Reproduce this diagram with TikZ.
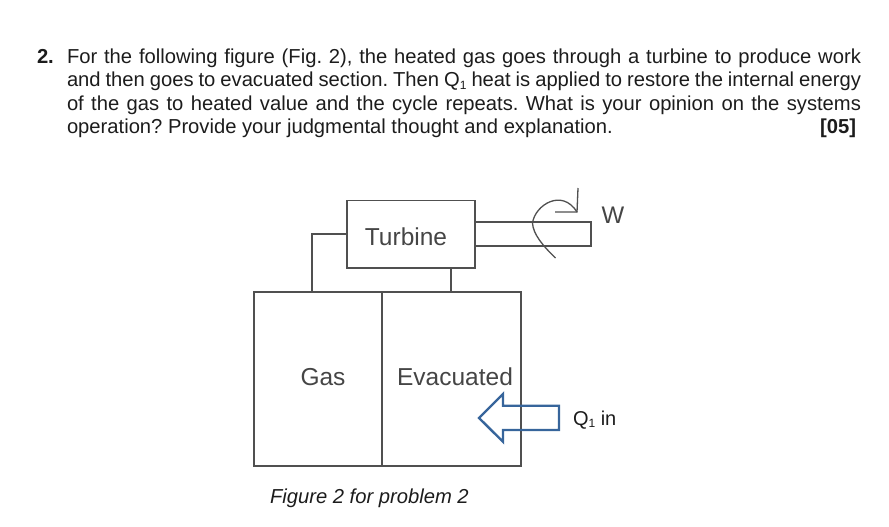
\documentclass[tikz,border=0pt]{standalone}
\usepackage{fontspec}
\setmainfont{Liberation Sans}
\frenchspacing
\definecolor{ink}{HTML}{1C1C1C}
\definecolor{wall}{HTML}{505050}
\definecolor{label}{HTML}{454545}
\definecolor{heat}{HTML}{37659B}
\newcommand{\subone}{\raisebox{-2pt}{\fontsize{12}{12}\selectfont 1}}
\tikzset{
  every node/.style={inner sep=0pt, outer sep=0pt},
  body/.style={anchor=base west, text=ink, font=\fontsize{20.2}{24}\selectfont},
  cell/.style={draw=wall, line width=1.7pt, anchor=north west},
  tag/.style={anchor=base, text=label, font=\fontsize{24.5}{28}\selectfont},
  pipe/.style={draw=wall, line width=1.7pt},
  hand/.style={draw=wall, line width=1.3pt},
}
\newcommand{\bodyline}[1]{\makebox[794pt][s]{#1}}
\begin{document}
\begin{tikzpicture}[x=1pt,y=-1pt]
  \useasboundingbox (0,0) rectangle (889,527);

  % question text
  \node (num) [body, font=\fontsize{20.2}{24}\bfseries\selectfont] at (37,63.3) {2.};
  \node (l1) [body] at (67,63.3) {\bodyline{For the following figure (Fig. 2), the heated gas goes through a turbine to produce work}};
  \node (l2) [body] at (67,87) {\bodyline{and then goes to evacuated section. Then Q\subone{} heat is applied to restore the internal energy}};
  \node (l3) [body] at (67,110.6) {\bodyline{of the gas to heated value and the cycle repeats. What is your opinion on the systems}};
  \node (l4) [body] at (67,133) {operation? Provide your judgmental thought and explanation.};
  \node (marks) [body, anchor=base east, font=\fontsize{20.2}{24}\bfseries\selectfont] at (856,133) {[05]};

  % boxes
  \node (turbine) [cell, minimum width=128pt, minimum height=67.5pt] at (347,200.5) {};
  \node (gas) [cell, minimum width=127.7pt, minimum height=173.7pt] at (254,292) {};
  \node (evac) [cell, minimum width=139.3pt, minimum height=173.7pt] at (381.7,292) {};

  \node (turbinetag) [tag] at (406,245) {Turbine};
  \node (gastag) [tag] at (323,385) {Gas};
  \node (evactag) [tag] at (455,385) {Evacuated};

  % pipes from the boxes to the turbine
  \coordinate (inlet) at (312,292);
  \coordinate (outlet) at (451,292);
  \draw [pipe] (turbine.west) -| (inlet);
  \draw [pipe] (turbine.south -| outlet) -- (outlet);

  % shaft
  \coordinate (shaftA) at (475,222);
  \coordinate (shaftB) at (475,246);
  \coordinate (shaftEnd) at (591,234);
  \draw [pipe] (shaftA) -| (shaftEnd) |- (shaftB);

  % hand drawn rotation arrow
  \coordinate (rotA) at (555.5,258);
  \coordinate (rotB) at (532.5,223);
  \coordinate (rotC) at (577,212);
  \coordinate (rotUp) at (578,188);
  \coordinate (rotBack) at (555,212);
  \draw [hand] (rotA) .. controls (543,246) and (533,234) .. (rotB)
    .. controls (535,205) and (562,188) .. (rotC);
  \draw [hand] (rotUp) -- (rotC) -- (rotBack);
  \node (work) [anchor=base, text=label, font=\fontsize{24}{28}\selectfont] at (613,223) {W};

  % heat input arrow
  \draw [heat, line width=2.4pt, miter limit=4]
    (479,418) -- (503,394) -- (503,405.7) -- (559,405.7)
    -- (559,430) -- (503,430) -- (503,441.7) -- cycle;
  \node (qin) [anchor=base west, text=ink, font=\fontsize{20}{24}\selectfont] at (573,425) {Q\subone{} in};

  % caption
  \node (caption) [anchor=base west, text=ink, font=\fontsize{20.2}{24}\itshape\selectfont] at (270,503) {Figure 2 for problem 2};
\end{tikzpicture}
\end{document}
